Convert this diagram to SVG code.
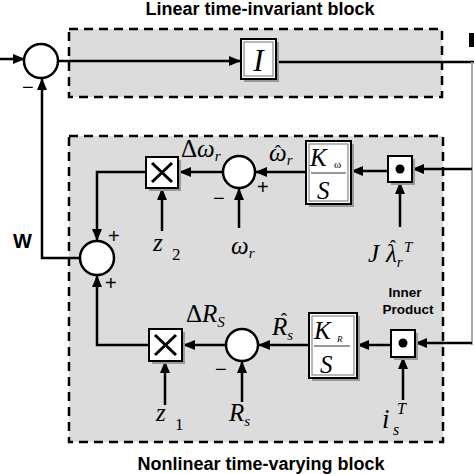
<svg xmlns="http://www.w3.org/2000/svg" width="474" height="474" viewBox="0 0 474 474">
<defs>
<marker id="ah" markerUnits="userSpaceOnUse" markerWidth="12" markerHeight="10" refX="11" refY="5" orient="auto">
<path d="M0,0 L12,5 L0,10 Z" fill="#000"/>
</marker>
<style>
.bx{fill:#dcdcdc;stroke:#000;stroke-width:2.5;stroke-dasharray:9,6}
.ln{fill:none;stroke:#000;stroke-width:2.5}
.ar{fill:none;stroke:#000;stroke-width:2.5;marker-end:url(#ah)}
.cir{fill:#fff;stroke:#000;stroke-width:2.5}
.blk{fill:#fff;stroke:#000;stroke-width:2}
.sh{fill:#999}
.inner{fill:none;stroke:#888;stroke-width:1.2}
.title{font-family:"Liberation Sans",Arial,sans-serif;font-weight:bold;font-size:18px;fill:#000}
.m{font-family:"Liberation Serif","Times New Roman",serif;font-style:italic;font-size:25px;fill:#000}
.up{font-style:normal}
.sub{font-size:15px}
.hat{font-family:"Liberation Serif","Times New Roman",serif;font-size:19px;fill:#000}
.sg{font-family:"Liberation Sans",Arial,sans-serif;font-size:20px;fill:#000}
.lbl{font-family:"Liberation Sans",Arial,sans-serif;font-weight:bold;font-size:13.5px;fill:#000}
</style>
</defs>
<rect width="474" height="474" fill="#fff"/>

<g id="lti-block">
<rect class="bx" x="69" y="29" width="373" height="68"/>
<text class="title" x="260" y="15" text-anchor="middle">Linear time-invariant block</text>
</g>
<g id="nltv-block">
<rect class="bx" x="69" y="136" width="374" height="306"/>
<text class="title" x="261" y="470" text-anchor="middle">Nonlinear time-varying block</text>
</g>
<rect x="469" y="33" width="6" height="14" fill="#000"/>

<g id="connectors">
<line class="ar" x1="0" y1="59" x2="24" y2="59"/>
<line class="ar" x1="58" y1="61" x2="240" y2="61"/>
<line class="ln" x1="277" y1="62" x2="474" y2="62"/>
<line x1="472" y1="62" x2="472" y2="345" stroke="#aaa" stroke-width="2"/>
<line class="ar" x1="472" y1="169" x2="413" y2="169"/>
<line class="ar" x1="472" y1="343" x2="416" y2="343"/>
<line class="ar" x1="388" y1="171" x2="352" y2="171"/>
<line class="ar" x1="306" y1="172" x2="256" y2="172"/>
<line class="ar" x1="223" y1="172" x2="180" y2="172"/>
<path class="ar" d="M146,172 H97 V240"/>
<line class="ar" x1="239" y1="228" x2="239" y2="189"/>
<line class="ar" x1="162" y1="231" x2="162" y2="189"/>
<line class="ar" x1="400" y1="227" x2="400" y2="183"/>
<line class="ar" x1="391" y1="345" x2="358" y2="345"/>
<line class="ar" x1="309" y1="345" x2="259" y2="345"/>
<line class="ar" x1="226" y1="345" x2="184" y2="345"/>
<path class="ar" d="M149,345 H97 V276"/>
<line class="ar" x1="242" y1="402" x2="242" y2="362"/>
<line class="ar" x1="165" y1="405" x2="165" y2="362"/>
<line class="ar" x1="403" y1="400" x2="403" y2="358"/>
<path class="ar" d="M80,258 H42 V79"/>
</g>

<g id="sum-top">
<circle class="cir" cx="41" cy="61" r="17"/>
<text class="sg" x="22" y="94">−</text>
</g>

<g id="integrator-I">
<rect class="sh" x="244" y="42" width="35" height="40"/>
<rect class="blk" x="241" y="39" width="35" height="40"/>
<rect class="inner" x="244" y="42" width="29" height="34"/>
<text class="m" x="258.5" y="71" text-anchor="middle" style="font-size:31px">I</text>
</g>

<g id="sum-W">
<circle class="cir" cx="97" cy="258" r="17"/>
<text class="sg" x="108" y="243">+</text>
<text class="sg" x="105" y="290">+</text>
<text x="13" y="248" style="font-family:'Liberation Sans',Arial,sans-serif;font-weight:bold;font-size:20px">W</text>
</g>

<g id="mult-top">
<rect class="sh" x="149" y="160" width="32" height="31"/>
<rect class="blk" x="146" y="157" width="32" height="31"/>
<path d="M152,163 L172,182 M172,163 L152,182" stroke="#000" stroke-width="3"/>
</g>

<g id="comp-top">
<circle class="cir" cx="239" cy="172" r="16"/>
<text class="sg" x="213" y="205">−</text>
<text class="sg" x="257" y="194">+</text>
</g>

<g id="K-omega">
<rect class="sh" x="309" y="144" width="45" height="63"/>
<rect class="blk" x="306" y="141" width="45" height="63"/>
<rect class="inner" x="309" y="144" width="39" height="57"/>
<line x1="311" y1="173" x2="346" y2="173" stroke="#777" stroke-width="1.5"/>
<text class="m" x="310" y="166">K</text>
<text class="m" x="334" y="168" style="font-size:11px;font-style:normal">ω</text>
<text class="m" x="317" y="199">S</text>
</g>

<g id="dot-top">
<rect class="sh" x="391" y="159" width="24" height="26"/>
<rect class="blk" x="388" y="156" width="24" height="26"/>
<circle cx="400" cy="169" r="4.5" fill="#000"/>
</g>

<g id="mult-bot">
<rect class="sh" x="152" y="332" width="33" height="32"/>
<rect class="blk" x="149" y="329" width="33" height="32"/>
<path d="M155,335 L176,355 M176,335 L155,355" stroke="#000" stroke-width="3"/>
</g>

<g id="comp-bot">
<circle class="cir" cx="242" cy="345" r="16"/>
<text class="sg" x="215" y="376">−</text>
</g>

<g id="K-R">
<rect class="sh" x="312" y="316" width="48" height="65"/>
<rect class="blk" x="309" y="313" width="48" height="65"/>
<rect class="inner" x="312" y="316" width="42" height="59"/>
<line x1="314" y1="346" x2="350" y2="346" stroke="#777" stroke-width="1.5"/>
<text class="m" x="314" y="339">K</text>
<text class="m" x="337" y="342" style="font-size:9px">R</text>
<text class="m" x="320" y="373">S</text>
</g>

<g id="dot-bot">
<rect class="sh" x="394" y="333" width="24" height="27"/>
<rect class="blk" x="391" y="330" width="24" height="27"/>
<circle cx="403" cy="343" r="4.5" fill="#000"/>
</g>

<g id="labels">
<text class="m" x="181" y="157"><tspan class="up">Δ</tspan>ω<tspan class="sub" dy="4">r</tspan></text>
<text class="m" x="269" y="161">ω<tspan class="sub" dy="4">r</tspan></text>
<text class="hat" x="278" y="158" text-anchor="middle">ˆ</text>
<text class="m" x="231" y="254">ω<tspan class="sub" dy="4">r</tspan></text>
<text class="m" x="153" y="251">z</text>
<text class="m" x="172" y="260" style="font-size:17px;font-style:normal">2</text>
<text class="m" x="368" y="262">J</text>
<text class="m" x="386" y="262">λ<tspan class="sub" dy="5">r</tspan></text>
<text class="hat" x="393" y="253" text-anchor="middle">ˆ</text>
<text class="m" x="404" y="252" style="font-size:15px">T</text>
<text class="lbl" x="405" y="297" text-anchor="middle">Inner</text>
<text class="lbl" x="408" y="314" text-anchor="middle">Product</text>
<text class="m" x="186" y="322"><tspan class="up">Δ</tspan>R<tspan class="sub" dy="5">S</tspan></text>
<text class="m" x="272" y="335">R<tspan class="sub" dy="5">s</tspan></text>
<text class="hat" x="284" y="326" text-anchor="middle">ˆ</text>
<text class="m" x="229" y="421">R<tspan class="sub" dy="5">s</tspan></text>
<text class="m" x="156" y="421">z</text>
<text class="m" x="175" y="430" style="font-size:17px;font-style:normal">1</text>
<text class="m" x="382" y="428" style="font-size:27px">i</text>
<text class="m" x="397" y="414" style="font-size:16px">T</text>
<text class="m" x="393" y="435" style="font-size:16px">s</text>
</g>
</svg>
